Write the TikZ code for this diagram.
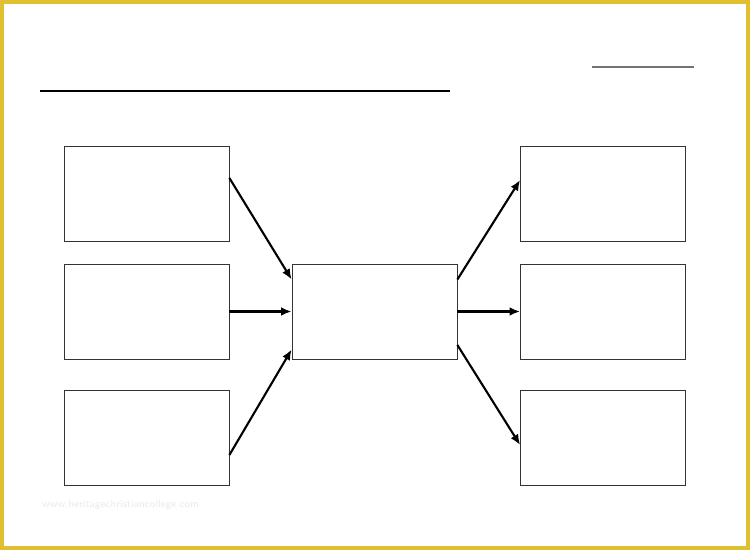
\documentclass[tikz,border=0pt]{standalone}
\usetikzlibrary{arrows.meta,positioning}

\tikzset{
  blank/.style={draw=black!80,line width=0.45pt,minimum width=3.3cm,minimum height=1.9cm,inner sep=0pt},
  link/.style={-{Latex[length=6pt,width=5pt]},line width=1.2pt}
}

\begin{document}
\begin{tikzpicture}[x=0.02cm,y=-0.02cm,>=Latex,font=\small]
\useasboundingbox (0,0) rectangle (750,550);
\fill[white] (0,0) rectangle (750,550);
\draw[line width=3pt,draw={rgb,255:red,224;green,192;blue,48}] (1.5,1.5) rectangle (748.5,548.5);
% heading lines
\draw[line width=0.7pt] (40,91) -- (450,91);
\draw[line width=0.7pt,black!55] (592,67) -- (694,67);
% left column
\node[blank] (lt) at (146.5,193.5) {};
\node[blank] (lm) at (146.5,311.5) {};
\node[blank] (lb) at (146.5,437.5) {};
% centre
\node[blank] (mid) at (374.5,311.5) {};
% right column
\node[blank] (rt) at (603,193.5) {};
\node[blank] (rm) at (603,311.5) {};
\node[blank] (rb) at (603,437.5) {};
% connectors
\draw[link] ([yshift=0.31cm]lt.east) -- ([yshift=0.64cm]mid.west);
\draw[link] (lm.east) -- (mid.west);
\draw[link] ([yshift=-0.35cm]lb.east) -- ([yshift=-0.76cm]mid.west);
\draw[link] ([yshift=0.64cm]mid.east) -- ([yshift=0.27cm]rt.west);
\draw[link] (mid.east) -- (rm.west);
\draw[link] ([yshift=-0.67cm]mid.east) -- ([yshift=-0.15cm]rb.west);
% watermark
\node[anchor=west,font=\sffamily\fontsize{6}{7}\selectfont,text=black!8] (mark) at (36,505) {www.heritagechristiancollege.com};
\end{tikzpicture}
\end{document}
